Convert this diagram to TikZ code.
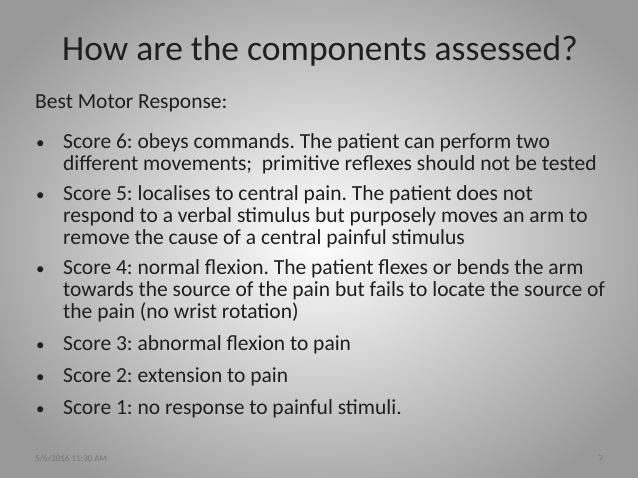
\documentclass[tikz,border=0pt]{standalone}
\usepackage{fontspec}
\setmainfont{Carlito}
\begin{document}
\frenchspacing
\begin{tikzpicture}[x=1pt,y=-1pt,
  txt/.style={anchor=base west,inner sep=0pt,font=\fontsize{21.5}{24}\selectfont,text=black!88},
  foot/.style={anchor=base,inner sep=0pt,font=\fontsize{9}{10}\selectfont,text=black!55}]
\useasboundingbox (0,0) rectangle (638,478);
\shade[inner color=white,outer color=black!40] (-60,-60) rectangle (698,538);
\node[anchor=base,inner sep=0pt,font=\fontsize{35.5}{40}\selectfont,text=black!88] (title) at (320,61) {How are the components assessed?};
\node[txt] (h) at (35,109) {Best Motor Response:};
\foreach \y/\t [count=\i] in {
 149/{Score 6: obeys commands. The patient can perform two},
 201/{Score 5: localises to central pain. The patient does not},
 275/{Score 4: normal flexion. The patient flexes or bends the arm},
 351/{Score 3: abnormal flexion to pain},
 383/{Score 2: extension to pain},
 415/{Score 1: no response to painful stimuli.}}
 {\node[txt,font=\fontsize{17}{20}\selectfont] (b\i) at (36,\y) {\textbullet};
  \node[txt] (l\i) at (63,\y) {\t};}
\foreach \y/\t [count=\i] in {
 171/{different movements;\ \ primitive reflexes should not be tested},
 223/{respond to a verbal stimulus but purposely moves an arm to},
 245/{remove the cause of a central painful stimulus},
 297/{towards the source of the pain but fails to locate the source of},
 319/{the pain (no wrist rotation)}}
 {\node[txt] (c\i) at (63,\y) {\t};}
\node[foot,anchor=base west] (date) at (35,462) {5/6/2016 11:30 AM};
\node[foot] (pg) at (601,462) {7};
\end{tikzpicture}
\end{document}
